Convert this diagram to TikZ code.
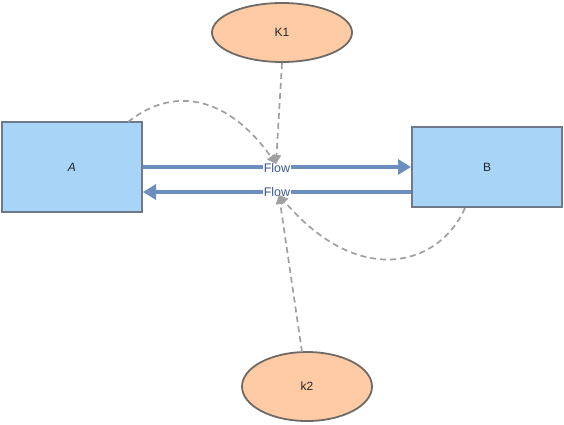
\documentclass[tikz,border=0pt]{standalone}
\usepackage{fontspec}
\setmainfont{Liberation Sans}
\usetikzlibrary{shapes.geometric,arrows.meta}
\definecolor{boxfill}{HTML}{A8D4F7}
\definecolor{boxline}{HTML}{6C7A89}
\definecolor{ellfill}{HTML}{FFCBA4}
\definecolor{ellline}{HTML}{6E6A66}
\definecolor{flowblue}{HTML}{6C8EBF}
\definecolor{flowtext}{HTML}{3D5A8C}
\definecolor{dashgray}{HTML}{A0A0A0}
\begin{document}
\begin{tikzpicture}[x=1pt,y=-1pt,
  rectbox/.style={draw=boxline,line width=2pt,fill=boxfill,minimum width=#1,inner sep=0pt},
  ellbox/.style={ellipse,draw=ellline,line width=1.8pt,fill=ellfill,inner sep=0pt},
  flowarrow/.style={draw=flowblue,line width=3.6pt,-{Triangle[length=13pt,width=15pt]}},
  flowlabel/.style={fill=white,text=flowtext,font=\fontsize{12.5}{13}\selectfont,inner sep=0.5pt},
  infl/.style={draw=dashgray,line width=1.7pt,dash pattern=on 6pt off 4pt,-{Triangle[length=9pt,width=9pt]}},
  lbl/.style={font=\fontsize{12}{13}\selectfont,text=black!85}]
\useasboundingbox (0,0) rectangle (564,424);
\node[rectbox=140pt,minimum height=90pt,lbl] (A) at (72,167) {\itshape A};
\node[rectbox=150pt,minimum height=80pt,lbl] (B) at (487,167) {B};
\node[ellbox,minimum width=140pt,minimum height=59pt,lbl] (K1) at (282,32.5) {K1};
\node[ellbox,minimum width=130pt,minimum height=69pt,lbl] (k2) at (307,386.5) {k2};
\coordinate (t1) at (276,164);
\coordinate (t2) at (279,195);
\coordinate (As) at (128,122);
\coordinate (Bs) at (465,208);
\coordinate (ks) at (302,352);
\draw[flowarrow] (A.east |- 0,167) -- (B.west |- 0,167);
\draw[flowarrow] (B.west |- 0,192) -- (A.east |- 0,192);
\node[flowlabel] (f1) at (277,168) {Flow};
\node[flowlabel] (f2) at (277,192) {Flow};
\draw[infl] (K1.south) -- (t1);
\draw[infl] (As) .. controls (170,88) and (225,92) .. (t1);
\draw[infl] (ks) -- (t2);
\draw[infl] (Bs) .. controls (440,265) and (360,290) .. (t2);
\end{tikzpicture}
\end{document}
